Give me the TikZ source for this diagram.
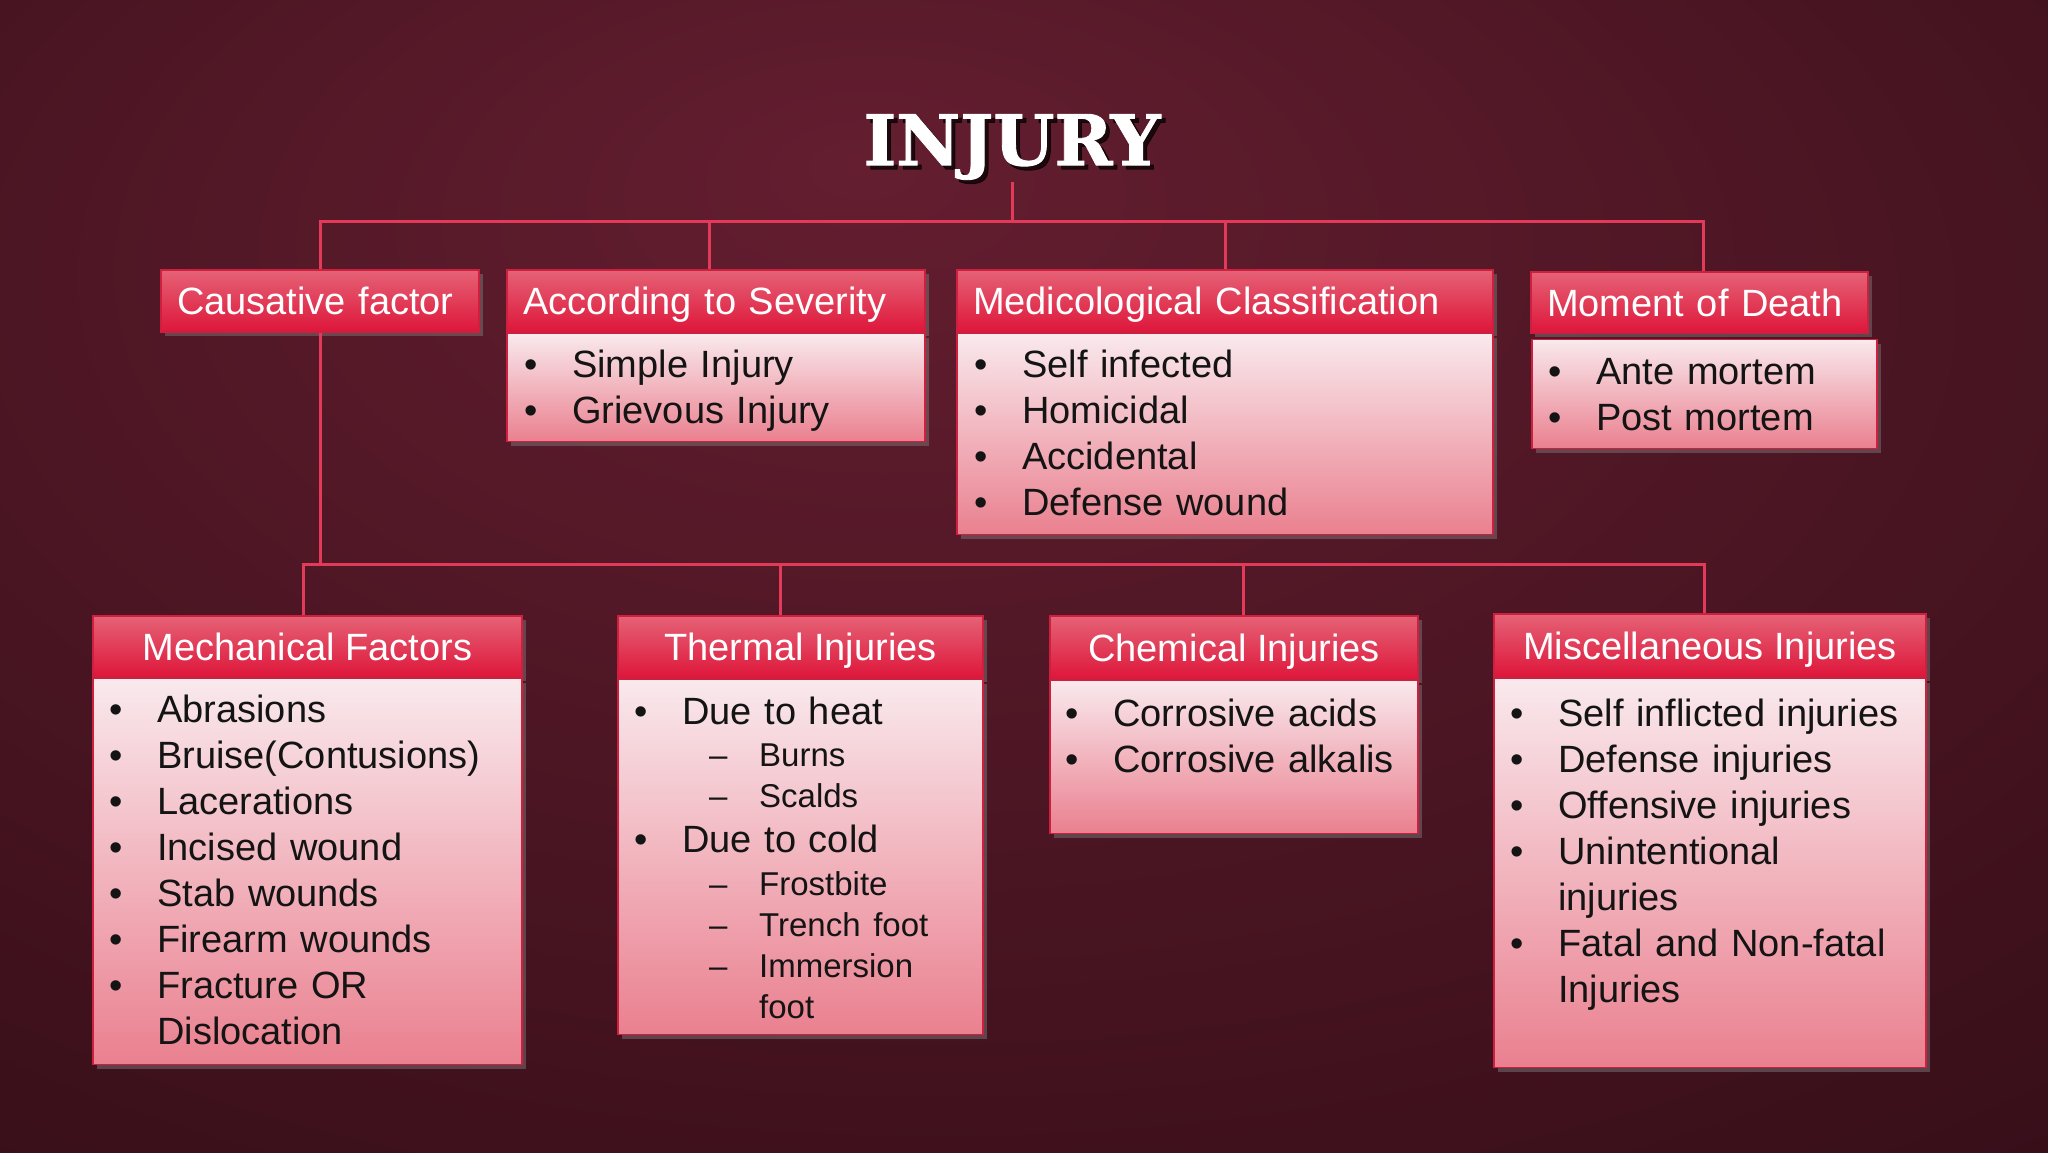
\documentclass[tikz,border=0pt]{standalone}
\usepackage{fontspec}
\setmainfont{Liberation Sans}
\newfontfamily\slabfont{DejaVu Serif}[BoldFeatures={FakeBold=1.2}]
\usepackage{tikz}
\usetikzlibrary{positioning,shadows}
\definecolor{bgin}{RGB}{100,30,48}
\definecolor{bgmid}{RGB}{66,18,30}
\definecolor{bgout}{RGB}{24,7,11}
\definecolor{linkred}{RGB}{226,58,88}
\definecolor{headtop}{RGB}{229,98,118}
\definecolor{headbot}{RGB}{222,22,58}
\definecolor{bodytop}{RGB}{249,233,237}
\definecolor{bodybot}{RGB}{234,128,143}
\definecolor{boxline}{RGB}{206,32,62}
\pgfdeclareradialshading{bgglow}{\pgfpoint{-4bp}{18bp}}{color(0bp)=(bgin); color(32bp)=(bgmid); color(72bp)=(bgout)}
\newcommand{\bul}{\makebox[48pt][l]{\textbullet}}
\newcommand{\sbul}[1]{{\fontsize{33}{41}\selectfont\hspace*{75pt}\makebox[50pt][l]{\textendash}#1}}
\tikzset{head/.style = {shape=rectangle,draw=boxline,line width=1.5pt,top color=headtop,bottom color=headbot,text=white,font=\fontsize{38}{46}\selectfont,inner xsep=16pt,text height=35pt,text depth=8pt,drop shadow={shadow xshift=4pt,shadow yshift=-4pt,opacity=.45}}}
\tikzset{headl/.style = {head,align=left}}
\tikzset{headc/.style = {head,align=center}}
\tikzset{bodybox/.style = {shape=rectangle,draw=boxline,line width=1.5pt,top color=bodytop,bottom color=bodybot,inner sep=0pt,drop shadow={shadow xshift=4pt,shadow yshift=-4pt,opacity=.45}}}
\tikzset{itemlist/.style = {anchor=base west,inner sep=0pt,align=left,text=black!92,font=\fontsize{38}{46}\selectfont}}
\tikzset{link/.style = {draw=linkred,line width=3pt}}

\begin{document}
\begin{tikzpicture}[x=1pt,y=-1pt]
	\useasboundingbox (0,0) rectangle (2048,1152);
	\shade[shading=bgglow] (0,0) rectangle (2048,1152);
	% title
	\node[text=black,opacity=.7,inner sep=2pt,font=\slabfont\bfseries\fontsize{70}{80}\selectfont] (injuryshadow) at (1016,151) {INJURY};
	\node[text=white,inner sep=2pt,font=\slabfont\bfseries\fontsize{70}{80}\selectfont] (injury) at (1012,147) {INJURY};
	% first level
	\node[headl,minimum width=318pt,minimum height=62pt,text width=286pt] (cause) at (320,301) {Causative factor};
	\node[headl,minimum width=418pt,minimum height=62pt,text width=386pt] (sev) at (716,301) {According to Severity};
	\node[headl,minimum width=536pt,minimum height=62pt,text width=504pt] (medico) at (1225,301) {Medicological Classification};
	\node[headl,minimum width=337pt,minimum height=61pt,text width=305pt] (death) at (1699.5,302.5) {Moment of Death};
	\node[bodybox,minimum width=418pt,minimum height=108pt,below=0pt of sev] (sevb) {};
	\node[bodybox,minimum width=536pt,minimum height=201pt,below=0pt of medico] (medicob) {};
	\node[bodybox,minimum width=345pt,minimum height=109pt,below=5pt of death,xshift=5pt] (deathb) {};
	\node[itemlist,text width=380pt] (sevl) at (524,377) {\bul Simple Injury\\\bul Grievous Injury};
	\node[itemlist,text width=500pt] (medicol) at (974,377) {\bul Self infected\\\bul Homicidal\\\bul Accidental\\\bul Defense wound};
	\node[itemlist,text width=320pt] (deathl) at (1548,384) {\bul Ante mortem\\\bul Post mortem};
	% second level
	\node[headc,minimum width=429pt,minimum height=61pt] (mech) at (307.5,646.5) {Mechanical Factors};
	\node[headc,minimum width=365pt,minimum height=62pt] (therm) at (800.5,647) {Thermal Injuries};
	\node[headc,minimum width=368pt,minimum height=63pt] (chem) at (1234,647.5) {Chemical Injuries};
	\node[headc,minimum width=432pt,minimum height=63pt] (misc) at (1710,645.5) {Miscellaneous Injuries};
	\node[bodybox,minimum width=429pt,minimum height=386pt,below=0pt of mech] (mechb) {};
	\node[bodybox,minimum width=365pt,minimum height=355pt,below=0pt of therm] (thermb) {};
	\node[bodybox,minimum width=368pt,minimum height=153pt,below=0pt of chem] (chemb) {};
	\node[bodybox,minimum width=432pt,minimum height=389pt,below=0pt of misc] (miscb) {};
	\node[itemlist,text width=405pt] (mechl) at (109,722) {\bul Abrasions\\\bul Bruise(Contusions)\\\bul Lacerations\\\bul Incised wound\\\bul Stab wounds\\\bul Firearm wounds\\\bul Fracture OR\\\hspace*{48pt}Dislocation};
	\node[itemlist,text width=340pt,font=\fontsize{38}{41}\selectfont] (therml) at (634,724) {\bul Due to heat\\[1pt]\sbul{Burns}\\\sbul{Scalds}\\[4pt]\bul Due to cold\\[2pt]\sbul{Frostbite}\\\sbul{Trench foot}\\\sbul{Immersion}\\{\fontsize{33}{41}\selectfont\hspace*{125pt}foot}};
	\node[itemlist,text width=345pt] (cheml) at (1065,726) {\bul Corrosive acids\\\bul Corrosive alkalis};
	\node[itemlist,text width=410pt] (miscl) at (1510,726) {\bul Self inflicted injuries\\\bul Defense injuries\\\bul Offensive injuries\\\bul Unintentional\\\hspace*{48pt}injuries\\\bul Fatal and Non-fatal\\\hspace*{48pt}Injuries};
	% links
	\coordinate (topbus) at (1012,221);
	\coordinate (lowbus) at (320,564);
	\draw[link] (injury.south) -- (injury.south |- topbus);
	\draw[link] (cause.north) -- (cause.north |- topbus) -- ([xshift=4pt]death.north |- topbus) -- ([xshift=4pt]death.north);
	\draw[link] ([xshift=-7pt]sev.north) -- ([xshift=-7pt]sev.north |- topbus);
	\draw[link] (medico.north) -- (medico.north |- topbus);
	\draw[link] (cause.south) -- (cause.south |- lowbus);
	\draw[link] ([xshift=-4pt]mech.north) -- ([xshift=-4pt]mech.north |- lowbus) -- ([xshift=-6pt]misc.north |- lowbus) -- ([xshift=-6pt]misc.north);
	\draw[link] ([xshift=-20pt]therm.north) -- ([xshift=-20pt]therm.north |- lowbus);
	\draw[link] ([xshift=9pt]chem.north) -- ([xshift=9pt]chem.north |- lowbus);
\end{tikzpicture}
\end{document}
